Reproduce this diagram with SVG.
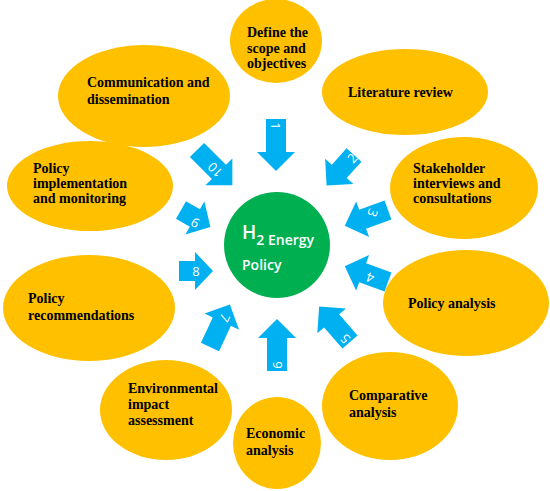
<svg xmlns="http://www.w3.org/2000/svg" width="550" height="491" viewBox="0 0 550 491">
<style>
.oval{fill:#FFC000}
.lbl{font-family:"Liberation Serif",serif;font-weight:bold;font-size:14px;fill:#000}
.arr{fill:#00B0F0}
.num{font-family:"Open Sans","Liberation Sans",sans-serif;font-size:13px;fill:#fff;text-anchor:middle;dominant-baseline:central}
.hub{font-family:"Open Sans","Liberation Sans",sans-serif;font-weight:600;fill:#fff}
</style>
<rect width="550" height="491" fill="#fff"/>
<g id="n1"><ellipse class="oval" cx="276" cy="41" rx="46" ry="42"/><text class="lbl"><tspan x="247" y="37">Define the</tspan><tspan x="247" y="53">scope and</tspan><tspan x="247" y="68">objectives</tspan></text></g>
<g id="n2"><ellipse class="oval" cx="405" cy="92" rx="83" ry="43"/><text class="lbl" x="348" y="97">Literature review</text></g>
<g id="n3"><ellipse class="oval" cx="464" cy="188" rx="74" ry="51"/><text class="lbl"><tspan x="413" y="173">Stakeholder</tspan><tspan x="413" y="188">interviews and</tspan><tspan x="413" y="203">consultations</tspan></text></g>
<g id="n4"><ellipse class="oval" cx="466" cy="303" rx="83" ry="53"/><text class="lbl" x="408" y="308">Policy analysis</text></g>
<g id="n5"><ellipse class="oval" cx="390" cy="406" rx="68" ry="54"/><text class="lbl"><tspan x="349" y="400">Comparative</tspan><tspan x="349" y="417">analysis</tspan></text></g>
<g id="n6"><ellipse class="oval" cx="277" cy="443" rx="44" ry="46"/><text class="lbl"><tspan x="246" y="438">Economic</tspan><tspan x="246" y="455">analysis</tspan></text></g>
<g id="n7"><ellipse class="oval" cx="166" cy="410" rx="66" ry="50"/><text class="lbl"><tspan x="128" y="393">Environmental</tspan><tspan x="128" y="409">impact</tspan><tspan x="128" y="425">assessment</tspan></text></g>
<g id="n8"><ellipse class="oval" cx="89" cy="308" rx="86" ry="53"/><text class="lbl"><tspan x="28" y="303">Policy</tspan><tspan x="28" y="320">recommendations</tspan></text></g>
<g id="n9"><ellipse class="oval" cx="90" cy="186" rx="83" ry="45"/><text class="lbl"><tspan x="33" y="173">Policy</tspan><tspan x="33" y="188">implementation</tspan><tspan x="33" y="203">and monitoring</tspan></text></g>
<g id="n10"><ellipse class="oval" cx="144" cy="96" rx="86" ry="51"/><text class="lbl"><tspan x="87" y="87">Communication and</tspan><tspan x="87" y="104">dissemination</tspan></text></g>
<g id="hub"><circle cx="277" cy="245" r="53" fill="#00B050"/><text class="hub"><tspan x="242" y="239" font-size="19">H</tspan><tspan font-size="14" dy="6">2 Energy</tspan></text><text class="hub" x="242" y="270" font-size="14">Policy</text></g>
<g id="connectors">
<path class="arr" transform="translate(276,119) rotate(90)" d="M0,-10 H33 V-19 L52,0 L33,19 V10 H0 Z"/>
<path class="arr" transform="translate(354,155) rotate(132)" d="M0,-10 H22 V-19 L41,0 L22,19 V10 H0 Z"/>
<path class="arr" transform="translate(388,210) rotate(160)" d="M0,-10 H27 V-19 L46,0 L27,19 V10 H0 Z"/>
<path class="arr" transform="translate(388,282) rotate(200)" d="M0,-10 H27 V-19 L46,0 L27,19 V10 H0 Z"/>
<path class="arr" transform="translate(350,342) rotate(229)" d="M0,-10 H28 V-19 L47,0 L28,19 V10 H0 Z"/>
<path class="arr" transform="translate(277,371) rotate(-90)" d="M0,-10 H33 V-19 L52,0 L33,19 V10 H0 Z"/>
<path class="arr" transform="translate(210,347) rotate(-65)" d="M0,-10 H28 V-19 L47,0 L28,19 V10 H0 Z"/>
<path class="arr" transform="translate(179,271)" d="M0,-10 H16 V-19 L34,0 L16,19 V10 H0 Z"/>
<path class="arr" transform="translate(181,210) rotate(30)" d="M0,-10 H16 V-19 L34,0 L16,19 V10 H0 Z"/>
<path class="arr" transform="translate(197,150) rotate(45)" d="M0,-10 H31 V-19 L50,0 L31,19 V10 H0 Z"/>
<text class="num" transform="translate(276,126) rotate(90)">1</text>
<text class="num" transform="translate(352,158) rotate(-48)">2</text>
<text class="num" transform="translate(373,213) rotate(110)">3</text>
<text class="num" transform="translate(370,278) rotate(200)">4</text>
<text class="num" transform="translate(345,339) rotate(229)">5</text>
<text class="num" transform="translate(277,365) rotate(-90)">6</text>
<text class="num" transform="translate(225,318) rotate(115)">7</text>
<text class="num" transform="translate(196,271)">8</text>
<text class="num" transform="translate(195,223) rotate(210)">9</text>
<text class="num" transform="translate(215,170) rotate(225)">10</text>
</g>
</svg>
